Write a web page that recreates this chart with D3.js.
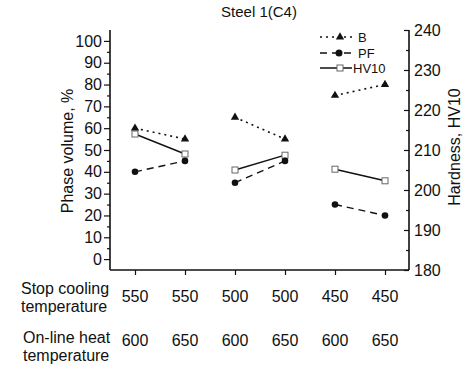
<!DOCTYPE html>
<html><head><meta charset="utf-8">
<script src="https://cdn.jsdelivr.net/npm/d3@7/dist/d3.min.js"></script>
<style>
html,body{margin:0;padding:0;background:#fff;}
svg text{font-family:"Liberation Sans",Arial,sans-serif;fill:#111;}
</style></head>
<body>
<svg id="chart" width="474" height="367"></svg>
<script>
const title = "Steel 1(C4)";
const positions = [1, 2, 3, 4, 5, 6];
const stopCooling = ["550", "550", "500", "500", "450", "450"];
const heatTemp = ["600", "650", "600", "650", "600", "650"];
const seriesB = [60, 55, 65, 55, 75, 80];
const seriesPF = [40, 45, 35, 45, 25, 20];
const seriesHV10 = [214, 209, 205, 208.7, 205.2, 202.3];
const pairs = [[0, 1], [2, 3], [4, 5]];
const leftTicks = [0, 10, 20, 30, 40, 50, 60, 70, 80, 90, 100];
const rightTicks = [180, 190, 200, 210, 220, 230, 240];

const svg = d3.select("#chart");
const x = d3.scaleLinear().domain([0.5, 6.48]).range([110, 409]);
const yL = d3.scaleLinear().domain([-5, 105]).range([270, 30]);
const yR = d3.scaleLinear().domain([180, 240]).range([270, 30]);

// Axes
const leftAxis = d3.axisLeft(yL).tickValues(leftTicks).tickSize(6).tickPadding(2).tickFormat(d3.format("d"));
const gL = svg.append("g").attr("transform", "translate(110,0)").call(leftAxis);
gL.select(".domain").attr("d", "M0,30V270");
const minorL = d3.axisLeft(yL).tickValues(d3.range(5, 100, 10)).tickSize(3).tickFormat("");
svg.append("g").attr("transform", "translate(110,0)").call(minorL).select(".domain").remove();

const rightAxis = d3.axisRight(yR).tickValues(rightTicks).tickSizeInner(-5).tickSizeOuter(0).tickPadding(5).tickFormat(d3.format("d"));
const gR = svg.append("g").attr("transform", "translate(409,0)").call(rightAxis);
gR.select(".domain").attr("d", "M0,30V270");
const minorR = d3.axisRight(yR).tickValues(d3.range(185, 240, 10)).tickSize(-3).tickFormat("");
svg.append("g").attr("transform", "translate(409,0)").call(minorR).select(".domain").remove();

const bottomAxis = d3.axisBottom(x).tickValues(positions).tickSize(5).tickFormat("");
const gB = svg.append("g").attr("transform", "translate(0,270)").call(bottomAxis);
gB.select(".domain").attr("d", "M110,0H409");

svg.selectAll(".domain").attr("stroke", "#111").attr("stroke-width", 1.6);
svg.selectAll(".tick line").attr("stroke", "#111").attr("stroke-width", 1.2);
svg.selectAll(".tick text").attr("font-size", 16).attr("fill", "#111")
  .attr("font-family", "Liberation Sans, Arial, sans-serif");

// Bottom category labels
svg.append("g").selectAll("text").data(positions).join("text")
  .attr("x", d => x(d)).attr("y", 302).attr("text-anchor", "middle").attr("font-size", 16)
  .text((d, i) => stopCooling[i]);
svg.append("g").selectAll("text").data(positions).join("text")
  .attr("x", d => x(d)).attr("y", 346).attr("text-anchor", "middle").attr("font-size", 16)
  .text((d, i) => heatTemp[i]);
svg.append("text").attr("x", 21).attr("y", 294).attr("font-size", 16).text("Stop cooling");
svg.append("text").attr("x", 21).attr("y", 312).attr("font-size", 16).text("temperature");
svg.append("text").attr("x", 23).attr("y", 343).attr("font-size", 16).text("On-line heat");
svg.append("text").attr("x", 23).attr("y", 361).attr("font-size", 16).text("temperature");

// Titles
svg.append("text").attr("x", 259).attr("y", 17).attr("text-anchor", "middle").attr("font-size", 15).text(title);
svg.append("text").attr("transform", "translate(73,151) rotate(-90)").attr("text-anchor", "middle")
  .attr("font-size", 16).text("Phase volume, %");
svg.append("text").attr("transform", "translate(460,147) rotate(-90)").attr("text-anchor", "middle")
  .attr("font-size", 16).text("Hardness, HV10");

// Series
const plot = svg.append("g");
function drawLines(vals, yScale, dash, width) {
  plot.append("g").selectAll("line").data(pairs).join("line")
    .attr("x1", p => x(positions[p[0]])).attr("y1", p => yScale(vals[p[0]]))
    .attr("x2", p => x(positions[p[1]])).attr("y2", p => yScale(vals[p[1]]))
    .attr("stroke", "#111").attr("stroke-width", width).attr("stroke-dasharray", dash);
}
drawLines(seriesHV10, yR, null, 1.4);
drawLines(seriesPF, yL, "7,5", 1.4);
drawLines(seriesB, yL, "2,4", 1.6);

const tri = d3.symbol().type(d3.symbolTriangle).size(30);
plot.append("g").selectAll("rect").data(positions).join("rect")
  .attr("x", d => x(d) - 3).attr("y", (d, i) => yR(seriesHV10[i]) - 3)
  .attr("width", 6).attr("height", 6).attr("fill", "#fff").attr("stroke", "#666").attr("stroke-width", 1);
plot.append("g").selectAll("circle").data(positions).join("circle")
  .attr("cx", d => x(d)).attr("cy", (d, i) => yL(seriesPF[i])).attr("r", 3.3).attr("fill", "#111");
plot.append("g").selectAll("path").data(positions).join("path")
  .attr("d", tri).attr("transform", (d, i) => `translate(${x(d)},${yL(seriesB[i])})`).attr("fill", "#111");

// Legend
const leg = svg.append("g");
const legItems = [
  {name: "B", y: 37, dash: "2,4", tx: 358},
  {name: "PF", y: 53, dash: "7,5", tx: 358},
  {name: "HV10", y: 68, dash: null, tx: 353}
];
leg.selectAll("line").data(legItems).join("line")
  .attr("x1", 320).attr("x2", d => d.name === "HV10" ? 352 : 353).attr("y1", d => d.y).attr("y2", d => d.y)
  .attr("stroke", "#111").attr("stroke-width", 1.5).attr("stroke-dasharray", d => d.dash);
leg.append("path").attr("d", tri).attr("transform", "translate(340,37)").attr("fill", "#111");
leg.append("circle").attr("cx", 339).attr("cy", 53).attr("r", 3.5).attr("fill", "#111");
leg.append("rect").attr("x", 337).attr("y", 65).attr("width", 6).attr("height", 6).attr("fill", "#fff").attr("stroke", "#666");
leg.selectAll("text").data(legItems).join("text")
  .attr("x", d => d.tx).attr("y", d => d.y + 5).attr("font-size", 13).text(d => d.name);
</script>
</body></html>
